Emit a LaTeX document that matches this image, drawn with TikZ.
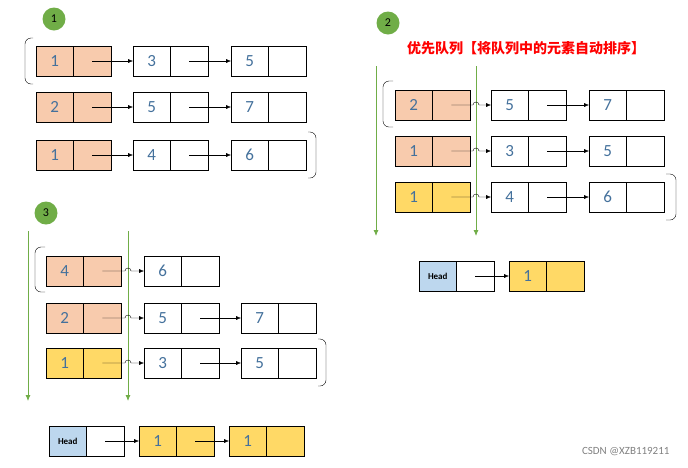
\documentclass[tikz,border=0pt]{standalone}
\usepackage{fontspec}
\setmainfont{Carlito}
\newfontfamily\cjk{Noto Sans CJK SC}
\usetikzlibrary{positioning,arrows.meta}
\definecolor{salmon}{HTML}{F8CBAD}
\definecolor{gold}{HTML}{FFD966}
\definecolor{sky}{HTML}{BDD7EE}
\definecolor{numblue}{HTML}{44719C}
\definecolor{leaf}{HTML}{70AD47}
% one list node: two cells, value and pointer
\newcommand{\lnode}[5]{%
  \node (#1-a) [cell, fill=#5, anchor=north west] at (#2,#3) {#4};
  \node (#1-b) [cell, fill=#5, right = 0pt of #1-a] {};}
\begin{document}
\begin{tikzpicture}
[
x=1pt, y=-1pt,
cell/.style={rectangle, draw, minimum width=37.5pt, minimum height=30pt, inner sep=0pt, outer sep=0pt,
  text=numblue, font=\fontsize{17}{17}\selectfont},
link/.style={-{Latex[length=5pt,width=4pt]}, thin},
badge/.style={circle, fill=leaf, minimum size=23pt, inner sep=0pt, font=\fontsize{12}{12}\selectfont},
flow/.style={-{Latex[length=6pt,width=5pt]}, leaf, thick},
brac/.style={rounded corners=6pt, thin},
headtxt/.style={text=black, font=\fontsize{9}{9}\selectfont\bfseries}
]
\useasboundingbox (0,0) rectangle (688,467);
%% panel 1
\node (step-1) [badge] at (54,19) {1};
\lnode{p1r1}{36}{46}{1}{salmon}
\lnode{p1r1n1}{133}{46}{3}{white}
\lnode{p1r1n2}{231}{46}{5}{white}
\lnode{p1r2}{36}{92}{2}{salmon}
\lnode{p1r2n1}{133}{92}{5}{white}
\lnode{p1r2n2}{231}{92}{7}{white}
\lnode{p1r3}{36}{140}{1}{salmon}
\lnode{p1r3n1}{133}{140}{4}{white}
\lnode{p1r3n2}{231}{140}{6}{white}
\foreach \r in {1,2,3}{
  \draw[link] (p1r\r-b.center) -- (p1r\r n1-a.west);
  \draw[link] (p1r\r n1-b.center) -- (p1r\r n2-a.west);
}
\draw[brac] (33,38) -- (25,38) -- (25,84) -- (33,84);
\draw[brac] (308,132) -- (316,132) -- (316,178) -- (308,178);
%% panel 2
\node (step-2) [badge] at (388,23) {2};
\node (title-2) [text=red, font=\cjk\fontsize{14}{14}\selectfont\bfseries] at (526,48) {优先队列【将队列中的元素自动排序】};
\coordinate (g21) at (376,66);
\coordinate (g22) at (476,66);
\draw[flow] (g21) -- (376,236);
\draw[flow] (g22) -- (476,236);
\lnode{p2r1}{395}{90}{2}{salmon}
\lnode{p2r1n1}{491}{90}{5}{white}
\lnode{p2r1n2}{589}{90}{7}{white}
\lnode{p2r2}{395}{136}{1}{salmon}
\lnode{p2r2n1}{491}{136}{3}{white}
\lnode{p2r2n2}{589}{136}{5}{white}
\lnode{p2r3}{395}{182}{1}{gold}
\lnode{p2r3n1}{491}{182}{4}{white}
\lnode{p2r3n2}{589}{182}{6}{white}
\foreach \r in {1,2,3}{
  \draw[link] (p2r\r-b.center) -- ([xshift=-3pt]p2r\r-b.center -| g22) arc[start angle=180, end angle=0, radius=3pt] -- (p2r\r n1-a.west);
  \draw[link] (p2r\r n1-b.center) -- (p2r\r n2-a.west);
}
\draw[brac] (393,81) -- (383,81) -- (383,127) -- (393,127);
\draw[brac] (666,174) -- (676,174) -- (676,220) -- (666,220);
\node (head-2a) [cell, fill=sky, anchor=north west, headtxt] at (419,261) {Head};
\node (head-2b) [cell, right = 0pt of head-2a] {};
\lnode{p2q1}{509}{261}{1}{gold}
\draw[link] (head-2b.center) -- (p2q1-a.west);
%% panel 3
\node (step-3) [badge] at (46,213) {3};
\coordinate (g31) at (28,231);
\coordinate (g32) at (128,231);
\draw[flow] (g31) -- (28,401);
\draw[flow] (g32) -- (128,401);
\lnode{p3r1}{46}{256}{4}{salmon}
\lnode{p3r1n1}{144}{256}{6}{white}
\lnode{p3r2}{46}{303}{2}{salmon}
\lnode{p3r2n1}{144}{303}{5}{white}
\lnode{p3r2n2}{241}{303}{7}{white}
\lnode{p3r3}{46}{348}{1}{gold}
\lnode{p3r3n1}{144}{348}{3}{white}
\lnode{p3r3n2}{241}{348}{5}{white}
\foreach \r in {1,2,3}{
  \draw[link] (p3r\r-b.center) -- ([xshift=-3pt]p3r\r-b.center -| g32) arc[start angle=180, end angle=0, radius=3pt] -- (p3r\r n1-a.west);
}
\foreach \r in {2,3}{
  \draw[link] (p3r\r n1-b.center) -- (p3r\r n2-a.west);
}
\draw[brac] (45,247) -- (35,247) -- (35,292) -- (45,292);
\draw[brac] (318,339) -- (326,339) -- (326,386) -- (318,386);
\node (head-3a) [cell, fill=sky, anchor=north west, headtxt] at (49,426) {Head};
\node (head-3b) [cell, right = 0pt of head-3a] {};
\lnode{p3q1}{139}{426}{1}{gold}
\lnode{p3q2}{229}{426}{1}{gold}
\draw[link] (head-3b.center) -- (p3q1-a.west);
\draw[link] (p3q1-b.center) -- (p3q2-a.west);
\node (mark) [text=gray, font=\fontsize{11}{11}\selectfont, anchor=east] at (673,452) {CSDN @XZB119211};
\end{tikzpicture}
\end{document}
